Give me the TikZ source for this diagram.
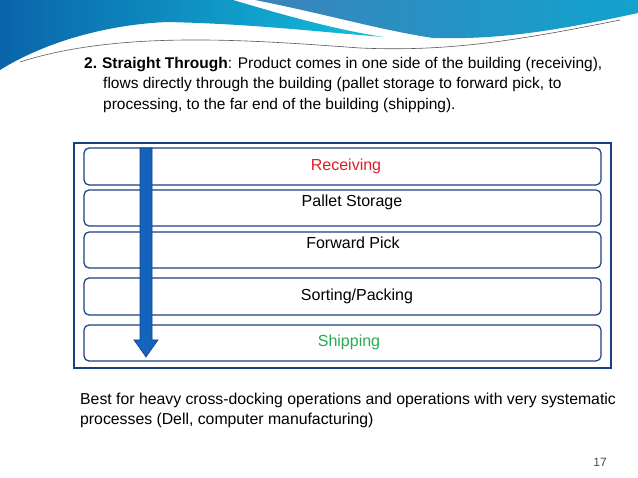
\documentclass[tikz,border=0pt]{standalone}
\usepackage{fontspec}
\setmainfont{Liberation Sans}
\begin{document}
\begin{tikzpicture}[x=1pt,y=-1pt,
  band/.style={draw=blue!50!black!90, line width=1.2pt, rounded corners=5pt},
  lbl/.style={font=\fontsize{16}{18}\selectfont, anchor=center}]
\useasboundingbox (0,0) rectangle (638,478);
\fill[white] (0,0) rectangle (638,478);
\definecolor{dkb}{RGB}{10,100,170}
\definecolor{cy}{RGB}{20,190,220}
\definecolor{bandc}{RGB}{25,65,130}
\definecolor{arr}{RGB}{20,100,190}
% header
\shade[left color=dkb, right color=cy] (0,0) -- (233,0) .. controls (300,20) and (340,30) .. (383,37)
  .. controls (300,30) and (250,24) .. (167,22) .. controls (100,25) and (40,45) .. (0,70) -- cycle;
\shade[left color=dkb!80, right color=cy!70!dkb] (255,0) -- (638,0) -- (638,13)
  .. controls (560,30) and (500,40) .. (433,38) .. controls (380,30) and (330,15) .. (255,0) -- cycle;
\draw[gray!70!black, line width=0.6pt] (20,62) .. controls (120,30) and (250,40) .. (360,48) .. controls (450,52) and (520,40) .. (620,20);
% title text
\node[anchor=north west, align=left, font=\fontsize{15.5}{20.5}\selectfont, inner sep=0] (t) at (84,57)
 {\textbf{2.}\hspace{5pt}\textbf{Straight Through}: Product comes in one side of the building (receiving),\\
 \hspace{19pt}flows directly through the building (pallet storage to forward pick, to\\
 \hspace{19pt}processing, to the far end of the building (shipping).};
% outer frame
\draw[bandc, line width=1.2pt] (74,143) rectangle (611,368);
\draw[band, bandc] (84,148) rectangle (601,185);
\draw[band, bandc] (84,190) rectangle (601,226);
\draw[band, bandc] (84,232) rectangle (601,268);
\draw[band, bandc] (84,278) rectangle (601,315);
\draw[band, bandc] (84,325) rectangle (601,361);
\node[lbl, text={rgb,255:red,225;green,30;blue,40}] (r) at (346,166) {Receiving};
\node[lbl] (p) at (352,202) {Pallet Storage};
\node[lbl] (f) at (353,243) {Forward Pick};
\node[lbl] (s) at (357,296) {Sorting/Packing};
\node[lbl, text={rgb,255:red,40;green,170;blue,80}] (sh) at (349,342) {Shipping};
% arrow
\fill[arr, draw=bandc, line width=0.6pt] (140,148) -- (152,148) -- (152,340) -- (158,340) -- (146,357) -- (134,340) -- (140,340) -- cycle;
% bottom text
\node[anchor=north west, align=left, font=\fontsize{15.8}{20}\selectfont, inner sep=0] (b) at (80,393)
 {Best for heavy cross-docking operations and operations with very systematic\\
 processes (Dell, computer manufacturing)};
\node[font=\fontsize{12}{12}\selectfont, text=gray!60!black] (n) at (600,462) {17};
\end{tikzpicture}
\end{document}
